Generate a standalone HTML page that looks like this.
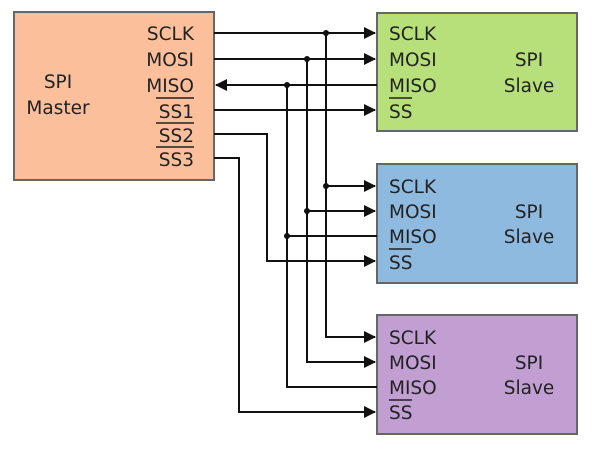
<!DOCTYPE html>
<html><head><style>body{margin:0;background:#fff}</style></head><body>
<svg width="600" height="452" xmlns="http://www.w3.org/2000/svg" font-family="DejaVu Sans, Liberation Sans, sans-serif" font-size="18.5" fill="#222">
<defs><marker id="a" markerWidth="12" markerHeight="12" refX="11" refY="6" orient="auto" markerUnits="userSpaceOnUse"><path d="M0,0 L12,6 L0,12 z" fill="#111"/></marker></defs>
<rect x="14" y="12" width="200" height="168" fill="#fbbf9b" stroke="#666" stroke-width="2"/>
<rect x="377" y="13" width="200" height="118" fill="#b8e07a" stroke="#666" stroke-width="2"/>
<rect x="377" y="164" width="200" height="119" fill="#8fbadf" stroke="#666" stroke-width="2"/>
<rect x="377" y="315" width="200" height="119" fill="#c29fd2" stroke="#666" stroke-width="2"/>
<g stroke="#111" stroke-width="2" fill="none">
<path d="M214,33 H375" marker-end="url(#a)"/>
<path d="M214,59 H375" marker-end="url(#a)"/>
<path d="M377,85 H216" marker-end="url(#a)"/>
<path d="M214,110 H375" marker-end="url(#a)"/>
<path d="M214,134 H267 V261 H375" marker-end="url(#a)"/>
<path d="M214,158 H239 V412 H375" marker-end="url(#a)"/>
<path d="M326,33 V337 H375" marker-end="url(#a)"/>
<path d="M326,186 H375" marker-end="url(#a)"/>
<path d="M307,59 V362 H375" marker-end="url(#a)"/>
<path d="M307,211 H375" marker-end="url(#a)"/>
<path d="M287,85 V387 H377"/>
<path d="M287,236 H377"/>
</g>
<g fill="#111"><circle cx="326" cy="33" r="3"/><circle cx="307" cy="59" r="3"/><circle cx="287" cy="85" r="3"/><circle cx="326" cy="186" r="3"/><circle cx="307" cy="211" r="3"/><circle cx="287" cy="236" r="3"/></g>
<g text-anchor="end">
<text x="194" y="40">SCLK</text><text x="194" y="66">MOSI</text><text x="194" y="92">MISO</text>
<text x="194" y="118">SS1</text><text x="194" y="142">SS2</text><text x="194" y="166">SS3</text>
</g>
<g stroke="#222" stroke-width="1.5"><path d="M156,98 H194 M156,123 H194 M156,147 H194"/></g>
<text x="58" y="88" text-anchor="middle">SPI</text><text x="58" y="114" text-anchor="middle">Master</text>
<g>
<text x="389" y="40">SCLK</text><text x="389" y="66">MOSI</text><text x="389" y="92">MISO</text><text x="389" y="118">SS</text>
<text x="389" y="193">SCLK</text><text x="389" y="218">MOSI</text><text x="389" y="243">MISO</text><text x="389" y="269">SS</text>
<text x="389" y="344">SCLK</text><text x="389" y="369">MOSI</text><text x="389" y="394">MISO</text><text x="389" y="419">SS</text>
</g>
<g stroke="#222" stroke-width="1.5"><path d="M389,98 H412 M389,249 H412 M389,400 H412"/></g>
<g text-anchor="middle">
<text x="529" y="66">SPI</text><text x="529" y="92">Slave</text>
<text x="529" y="218">SPI</text><text x="529" y="243">Slave</text>
<text x="529" y="369">SPI</text><text x="529" y="394">Slave</text>
</g>
</svg>
</body></html>
